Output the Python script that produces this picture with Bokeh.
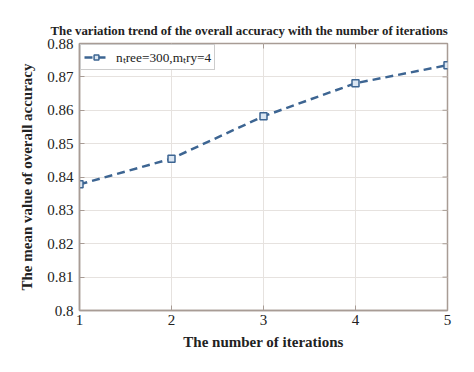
from bokeh.plotting import figure
from bokeh.models import FixedTicker, Range1d, Legend, LegendItem
from bokeh.embed import file_html
from bokeh.resources import INLINE

iterations = [1, 2, 3, 4, 5]
accuracy = [0.8378, 0.8455, 0.8582, 0.8681, 0.8735]
y_ticks = [0.80, 0.81, 0.82, 0.83, 0.84, 0.85, 0.86, 0.87, 0.88]
y_tick_labels = ["0.8", "0.81", "0.82", "0.83", "0.84", "0.85", "0.86", "0.87", "0.88"]
x_ticks = [1, 2, 3, 4, 5]
series_name = "n\u209cree=300,m\u209cry=4"

FONT = "Liberation Serif"
LINE = "#3d6592"
FRAME = "#a89c95"

x0, x1 = 1, 5
y0, y1 = 0.8, 0.88
W, H = 458, 356
BL, BR, BT, BB = 79, 11, 43, 46

p = figure(width=W, height=H, output_backend="svg", toolbar_location=None,
           x_range=Range1d(x0, x1), y_range=Range1d(y0, y1),
           min_border_left=BL, min_border_right=BR, min_border_top=BT, min_border_bottom=BB,
           title="The variation trend of the overall accuracy with the number of iterations")
p.title.text_font = FONT
p.title.text_font_style = "bold"
p.title.text_font_size = "12.8px"
p.title.align = "left"
p.title.offset = -29
p.title.standoff = 12
p.title.text_color = "#222222"

p.outline_line_color = FRAME
p.outline_line_width = 1.5

p.xaxis.ticker = FixedTicker(ticks=x_ticks)
p.yaxis.ticker = FixedTicker(ticks=y_ticks)
p.yaxis.major_label_overrides = {t: l for t, l in zip(y_ticks, y_tick_labels)}

for ax in [p.xaxis[0], p.yaxis[0]]:
    ax.axis_line_color = FRAME
    ax.axis_line_width = 1.5
    ax.major_tick_line_color = FRAME
    ax.major_tick_in = 5
    ax.major_tick_out = 0
    ax.minor_tick_line_color = None
    ax.major_label_text_font = FONT
    ax.major_label_text_font_size = "15px"
    ax.major_label_text_color = "#222222"
    ax.axis_label_text_font = FONT
    ax.axis_label_text_font_style = "bold"
    ax.axis_label_text_font_size = "15px"
    ax.axis_label_text_color = "#222222"

p.xaxis.axis_label = "The number of iterations"
p.yaxis.axis_label = "The mean value of overall accuracy"
p.xaxis.major_label_standoff = 4
p.yaxis.major_label_standoff = 6
p.xaxis.axis_label_standoff = 6
p.yaxis.axis_label_standoff = 9

p.xgrid.grid_line_color = "#e6e2df"
p.ygrid.grid_line_color = "#e6e2df"

# inward tick marks on the right and top edges of the box
plot_w = W - BL - BR
plot_h = H - BT - BB
tx = 5 * (x1 - x0) / plot_w
ty = 5 * (y1 - y0) / plot_h
p.segment(x0=[x1] * len(y_ticks), y0=y_ticks, x1=[x1 - tx] * len(y_ticks), y1=y_ticks,
          line_color=FRAME, line_width=1)
p.segment(x0=x_ticks, y0=[y1] * len(x_ticks), x1=x_ticks, y1=[y1 - ty] * len(x_ticks),
          line_color=FRAME, line_width=1)

ln = p.line(iterations, accuracy, line_color=LINE, line_width=2.5, line_dash="8 5")
mk = p.scatter(iterations, accuracy, marker="square", size=7, line_color=LINE,
               fill_color="#dbe6f2", line_width=1.5)

legend = Legend(items=[LegendItem(label=series_name, renderers=[ln, mk])],
                location="top_left", label_text_font=FONT, label_text_font_size="13.3px",
                label_text_color="#222222", border_line_color="#9a9a9a", border_line_width=1,
                padding=3, margin=1, spacing=0, glyph_width=24, glyph_height=12,
                label_standoff=8, label_height=12, background_fill_alpha=1)
p.add_layout(legend)

open("out.html", "w").write(file_html(p, INLINE))
